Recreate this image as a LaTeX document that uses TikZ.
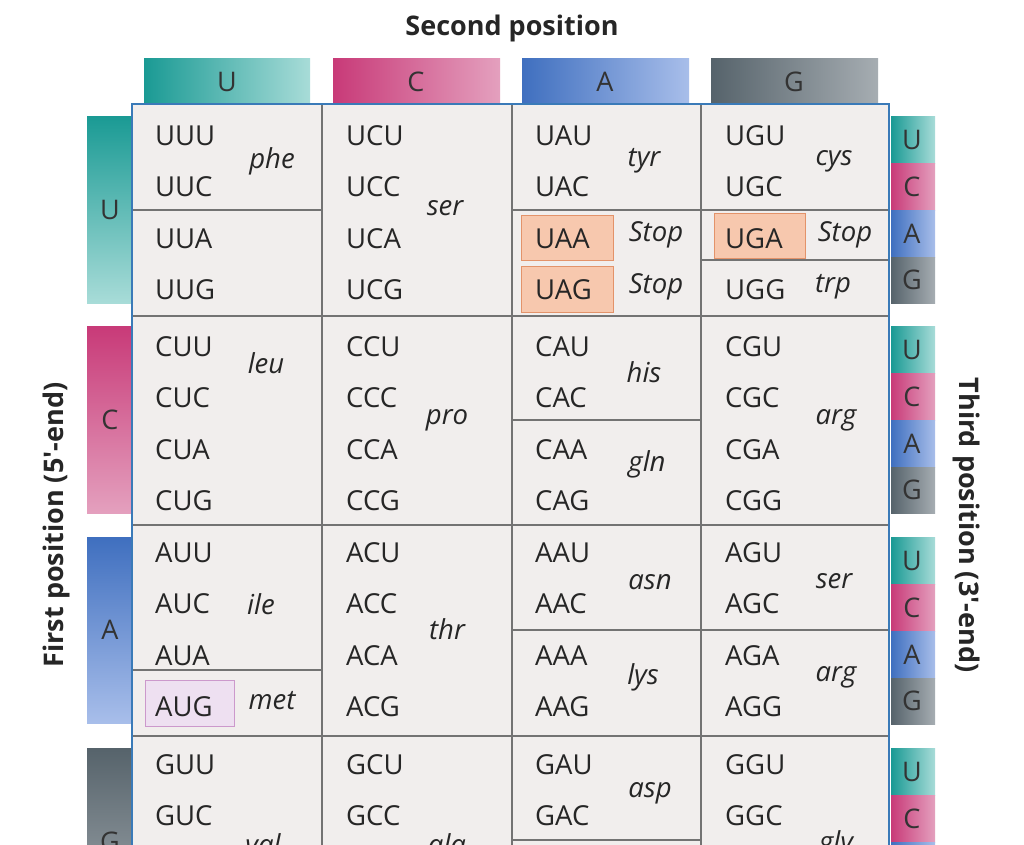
\documentclass[tikz,border=0pt]{standalone}
\usepackage{fontspec}
\setmainfont{Open Sans}
\begin{document}
\begin{tikzpicture}[x=1pt,y=-1pt,
  cod/.style={anchor=west,inner sep=0pt,font=\fontsize{27.5}{30}\selectfont,text=black!85},
  aa/.style={inner sep=0pt,font=\fontsize{27.5}{30}\selectfont\itshape,text=black!85},
  hdr/.style={font=\fontsize{27}{30}\selectfont,text=black!80},
  grid/.style={draw=black!55,line width=1.3pt}]
\definecolor{tA}{HTML}{1A9A94}\definecolor{tB}{HTML}{A8DCD8}
\definecolor{mA}{HTML}{C83A78}\definecolor{mB}{HTML}{E4A0BE}
\definecolor{bA}{HTML}{3F6FBF}\definecolor{bB}{HTML}{A8BEEA}
\definecolor{gA}{HTML}{56636B}\definecolor{gB}{HTML}{A6ADB2}
\definecolor{tbl}{HTML}{F1EEED}\definecolor{bord}{HTML}{3A7AB8}
\definecolor{stopf}{HTML}{F7C8AE}\definecolor{stopd}{HTML}{E3936A}
\useasboundingbox (0,0) rectangle (1024,844);
\clip (0,0) rectangle (1024,844);
\fill[white] (0,0) rectangle (1024,844);
\node[font=\fontsize{27}{30}\selectfont\bfseries,text=black!85] (sec) at (512,28) {Second position};
\node[rotate=90,font=\fontsize{27}{30}\selectfont\bfseries,text=black!85] (first) at (56,525) {First position (5′-end)};
\node[rotate=-90,font=\fontsize{27}{30}\selectfont\bfseries,text=black!85] (third) at (966,525) {Third position (3′-end)};
% top headers
\shade[left color=tA,right color=tB] (144,58) rectangle (310,103);
\shade[left color=mA,right color=mB] (333,58) rectangle (500,103);
\shade[left color=bA,right color=bB] (522,58) rectangle (689,103);
\shade[left color=gA,right color=gB] (711,58) rectangle (878,103);
\node[hdr] (hU) at (227,82) {U};
\node[hdr] (hC) at (416,82) {C};
\node[hdr] (hA) at (605,82) {A};
\node[hdr] (hG) at (794,82) {G};
% left headers
\shade[top color=tA,bottom color=tB] (87,116) rectangle (131,303);
\shade[top color=mA,bottom color=mB] (87,326) rectangle (131,513);
\shade[top color=bA,bottom color=bB] (87,537) rectangle (131,723);
\shade[top color=gA,bottom color=gB] (87,748) rectangle (131,935);
\node[hdr] (lU) at (110,210) {U};
\node[hdr] (lC) at (110,420) {C};
\node[hdr] (lA) at (110,630) {A};
\node[hdr] (lG) at (110,842) {G};
% right small boxes
\foreach \b/\t in {0/116,1/326,2/537,3/748}{
  \shade[left color=tA,right color=tB] (891,\t) rectangle (935,\t+47);
  \shade[left color=mA,right color=mB] (891,\t+47) rectangle (935,\t+94);
  \shade[left color=bA,right color=bB] (891,\t+94) rectangle (935,\t+141);
  \shade[left color=gA,right color=gB] (891,\t+141) rectangle (935,\t+187);
  \node[hdr] (rU\b) at (912,\t+24) {U};
  \node[hdr] (rC\b) at (912,\t+71) {C};
  \node[hdr] (rA\b) at (912,\t+118) {A};
  \node[hdr] (rG\b) at (912,\t+164) {G};
}
% table
\fill[tbl] (132,104) rectangle (889,900);
\draw[grid] (322,104) -- (322,900) (512,104) -- (512,900) (701,104) -- (701,900);
\draw[grid] (132,316) -- (889,316) (132,525) -- (889,525) (132,736) -- (889,736);
\draw[grid] (132,210) -- (322,210) (132,670) -- (322,670);
\draw[grid] (512,210) -- (889,210) (701,260) -- (889,260);
\draw[grid] (512,420) -- (701,420) (512,630) -- (889,630) (512,840) -- (701,840);
\draw[bord,line width=2.2pt] (889,900) -- (889,104) -- (132,104) -- (132,900);
% highlights
\draw[fill=stopf,draw=stopd,line width=1pt] (521,215) rectangle (613,260);
\draw[fill=stopf,draw=stopd,line width=1pt] (521,266) rectangle (613,312);
\draw[fill=stopf,draw=stopd,line width=1pt] (714,213) rectangle (805,258);
\draw[fill=blue!10!violet!12,draw=violet!40,line width=1pt] (145,680) rectangle (234,726);
% codons
\foreach \f/\y in {U/136,C/347,A/553,G/765}{
  \foreach \s/\x in {U/155,C/346,A/535,G/725}{
    \foreach \t/\d in {U/0,C/51,A/103,G/154}{
      \node[cod] (c\f\s\t) at (\x,\y+\d) {\f\s\t};
    }
  }
}
% amino acids
\node[aa] (phe) at (272,161) {phe};
\node[aa] (leu) at (266,363) {leu};
\node[aa] (ile) at (261,604) {ile};
\node[aa] (met) at (272,701) {met};
\node[aa] (val) at (263,844) {val};
\node[aa] (ser1) at (445,208) {ser};
\node[aa] (pro) at (447,420) {pro};
\node[aa] (thr) at (447,629) {thr};
\node[aa] (ala) at (447,844) {ala};
\node[aa] (tyr) at (644,161) {tyr};
\node[aa] (stop1) at (656,235) {Stop};
\node[aa] (stop2) at (656,287) {Stop};
\node[aa] (his) at (644,372) {his};
\node[aa] (gln) at (647,464) {gln};
\node[aa] (asn) at (650,582) {asn};
\node[aa] (lys) at (643,677) {lys};
\node[aa] (asp) at (650,793) {asp};
\node[aa] (cys) at (834,161) {cys};
\node[aa] (stop3) at (845,235) {Stop};
\node[aa] (trp) at (833,287) {trp};
\node[aa] (arg1) at (836,420) {arg};
\node[aa] (ser2) at (834,581) {ser};
\node[aa] (arg2) at (836,677) {arg};
\node[aa] (gly) at (836,844) {gly};
\end{tikzpicture}
\end{document}
